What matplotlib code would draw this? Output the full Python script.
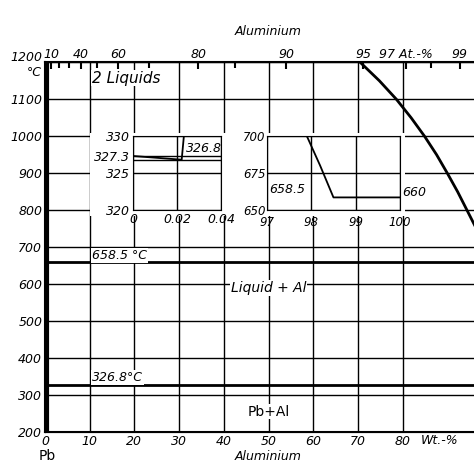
import numpy as np
import matplotlib.pyplot as plt
from matplotlib.patches import Rectangle

plt.rcParams['font.family'] = 'DejaVu Sans'

# liquidus of Al-rich side (wt.-% Al, °C)
liq_wt = [70.5, 74.8, 78.6, 81.9, 84.9, 87.6, 90.0, 92.3, 94.4, 96.5, 98.4, 100.0]
liq_t = [1200, 1150, 1100, 1050, 1000, 950, 900, 850, 800, 750, 700, 660]
monotectic_t = 658.5
eutectic_t = 326.8

at_ticks = [10, 40, 60, 80, 90, 95, 97, 99]
at_minor = [20, 30, 50, 70, 85, 98]

# inset 1 (Pb side)
in1_x = [0.0, 0.022, 0.023]
in1_t = [327.3, 326.8, 330.0]
# inset 2 (Al side)
in2_x = [97.9, 98.2, 98.5, 100.0]
in2_t = [700, 680, 658.5, 658.5]


def at_to_wt(a):
    a = np.asarray(a, dtype=float)
    return 27 * a / (27 * a + 207.2 * (100 - a)) * 100


fig = plt.figure(figsize=(4.74, 4.74), dpi=100)
ax = fig.add_axes([0.095, 0.0886, 0.943, 0.78])
ax.set_xlim(0, 100)
ax.set_ylim(200, 1200)
ax.set_xticks(np.arange(0, 90, 10))
ax.set_yticks(np.arange(200, 1300, 100))
ax.set_yticklabels([str(v) for v in range(200, 1200, 100)] + ['1200\n°C'],
                   fontstyle='italic', fontsize=9)
ax.set_xticklabels([str(v) for v in range(0, 90, 10)], fontstyle='italic', fontsize=9)
ax.tick_params(length=0, pad=2)
ax.grid(True, color='black', lw=1.0)
for s in ax.spines.values():
    s.set_linewidth(1.5)

ax.add_patch(Rectangle((10, 785), 70.5, 225, facecolor='white', edgecolor='none', zorder=2))

ax.plot([0.5, 0.5], [200, 1200], color='black', lw=3, zorder=3)
ax.axhline(monotectic_t, color='black', lw=2, zorder=3)
ax.axhline(eutectic_t, color='black', lw=2, zorder=3)
ax.plot(liq_wt, liq_t, color='black', lw=2, zorder=3)

txt = dict(fontstyle='italic', zorder=4, bbox=dict(facecolor='white', edgecolor='none', pad=0.5))
ax.text(10.5, 1145, '2 Liquids', fontsize=11, **txt)
ax.text(10.5, 668, '658.5 °C', fontsize=9, **txt)
ax.text(10.5, 338, '326.8°C', fontsize=9, **txt)
ax.text(50, 590, 'Liquid + Al', fontsize=10, ha='center', va='center', **txt)
ax.text(50, 255, 'Pb+Al', fontsize=10, ha='center', va='center', zorder=4,
        bbox=dict(facecolor='white', edgecolor='none', pad=0.5))
ax.text(84, 178, 'Wt.-%', fontsize=9, fontstyle='italic', ha='left', va='center', clip_on=False)
ax.text(0.5, 135, 'Pb', fontsize=10, ha='center', va='center')
ax.text(50, 133, 'Aluminium', fontsize=9, fontstyle='italic', ha='center', va='center')

top = ax.twiny()
top.set_xlim(0, 100)
top.set_xticks(at_to_wt(at_ticks))
top.set_xticklabels(['10', '40', '60', '80', '90', '95', '97 At.-%', '99'],
                    fontstyle='italic', fontsize=9)
top.set_xticks(at_to_wt(at_minor), minor=True)
top.tick_params(which='major', direction='in', length=5, width=1.5, pad=1)
top.tick_params(which='minor', direction='in', length=4, width=1.5)
top.set_xlabel('Aluminium', fontstyle='italic', fontsize=9, labelpad=9)

# inset 1
a1 = fig.add_axes([0.281, 0.557, 0.186, 0.156])
a1.set_xlim(0, 0.04)
a1.set_ylim(320, 330)
a1.set_xticks([0, 0.02, 0.04])
a1.set_xticklabels(['0', '0.02', '0.04'], fontstyle='italic', fontsize=9)
a1.set_yticks([320, 325, 327.3, 330])
a1.set_yticklabels(['320', '325', '327.3', '330'], fontstyle='italic', fontsize=9)
a1.tick_params(length=0, pad=2)
a1.grid(True, color='black', lw=1.0)
a1.plot(in1_x, in1_t, color='black', lw=1.3)
a1.axhline(eutectic_t, color='black', lw=1.0)
a1.text(0.0405, 328.3, '326.8', fontsize=9, fontstyle='italic', ha='right', va='center')

# inset 2
a2 = fig.add_axes([0.563, 0.557, 0.281, 0.156])
a2.set_xlim(97, 100)
a2.set_ylim(650, 700)
a2.set_xticks([97, 98, 99, 100])
a2.set_xticklabels(['97', '98', '99', '100'], fontstyle='italic', fontsize=8.5)
a2.set_yticks([650, 675, 700])
a2.set_yticklabels(['650', '675', '700'], fontstyle='italic', fontsize=8.5)
a2.tick_params(axis='x', length=0, pad=4)
a2.tick_params(axis='y', length=0, pad=1)
a2.grid(True, color='black', lw=1.0)
a2.plot(in2_x, in2_t, color='black', lw=1.3)
a2.text(97.05, 664, '658.5', fontsize=9, fontstyle='italic', va='center')
a2.text(100.05, 662, '660', fontsize=9, fontstyle='italic', va='center', clip_on=False)

fig.savefig('out.png', dpi=100)
